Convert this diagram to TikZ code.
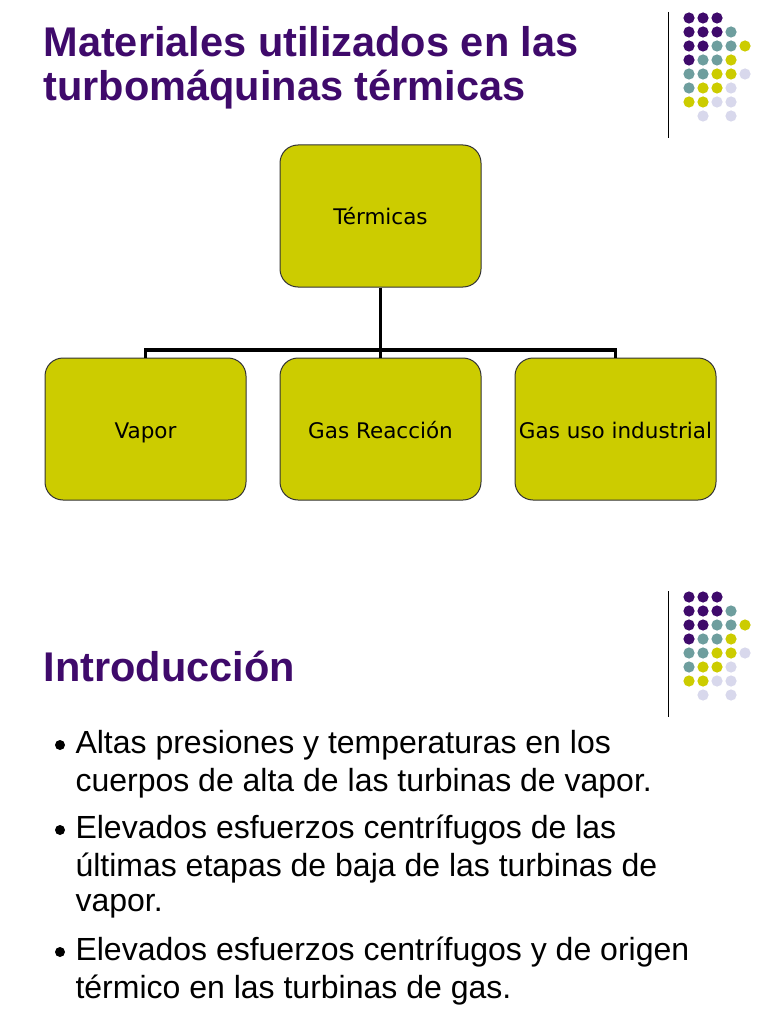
\documentclass[tikz,border=0pt]{standalone}
\usepackage{fontspec}
\setmainfont{Liberation Sans}
\newfontfamily\boxfont{DejaVu Sans}
\definecolor{pur}{HTML}{3F0A6B}
\definecolor{tea}{HTML}{6E9E9E}
\definecolor{yel}{HTML}{CCCC00}
\definecolor{lav}{HTML}{D8D8EC}
\definecolor{boxc}{HTML}{CCCC00}
\begin{document}
\begin{tikzpicture}[x=1pt,y=-1pt,
  bx/.style={draw=black!80,line width=1pt,fill=boxc,rounded corners=18pt,minimum width=201pt,minimum height=142pt,text height=22pt,text depth=4pt,font=\boxfont\fontsize{21.5}{24}\selectfont},
  title/.style={anchor=west,text=pur,font=\bfseries\fontsize{41.5}{48}\selectfont},
  body/.style={anchor=west,font=\fontsize{32}{36}\selectfont},
  conn/.style={line width=3.5pt}]
\useasboundingbox (0,0) rectangle (768,1024);
\fill[white] (0,0) rectangle (768,1024);
% dots
\foreach \oy in {0,579}{
 \draw[line width=1pt] (668,12+\oy) -- (668,138+\oy);
 \foreach \row [count=\r from 0] in {{P,P,P,N,N},{P,P,P,T,N},{P,P,T,T,Y},{P,T,T,Y,N},{T,T,Y,Y,L},{T,Y,Y,L,N},{Y,Y,L,L,N},{N,L,N,L,N}}{
  \foreach \c [count=\k from 0] in \row {
   \if\c P\fill[pur] (689+14*\k,18+14*\r+\oy) circle (5.6);\fi
   \if\c T\fill[tea] (689+14*\k,18+14*\r+\oy) circle (5.6);\fi
   \if\c Y\fill[yel] (689+14*\k,18+14*\r+\oy) circle (5.6);\fi
   \if\c L\fill[lav] (689+14*\k,18+14*\r+\oy) circle (5.6);\fi
  }}}
\node[title] (t1) at (40,42) {Materiales utilizados en las};
\node[title] (t2) at (40,90) {turbomáquinas térmicas};
\node[bx] (top) at (380.5,216) {Térmicas};
\node[bx] (b1) at (145.5,429) {Vapor};
\node[bx] (b2) at (380.5,429) {Gas Reacción};
\node[bx] (b3) at (615.5,429) {Gas uso industrial};
\coordinate (m) at (380.5,350);
\draw[conn] (top.south) -- (m);
\draw[conn] (b1.north) |- (m) -| (b3.north);
\draw[conn] (m) -- (b2.north);
\node[title] (intro) at (40,666) {Introducción};
\foreach \y in {745,830,952} \fill (60,\y) circle (5);
\node[body] (l1) at (72,745) {Altas presiones y temperaturas en los};
\node[body] (l2) at (72,783) {cuerpos de alta de las turbinas de vapor.};
\node[body] (l3) at (72,830) {Elevados esfuerzos centrífugos de las};
\node[body] (l4) at (72,868) {últimas etapas de baja de las turbinas de};
\node[body] (l5) at (72,906) {vapor.};
\node[body] (l6) at (72,952) {Elevados esfuerzos centrífugos y de origen};
\node[body] (l7) at (72,990) {térmico en las turbinas de gas.};
\end{tikzpicture}
\end{document}
